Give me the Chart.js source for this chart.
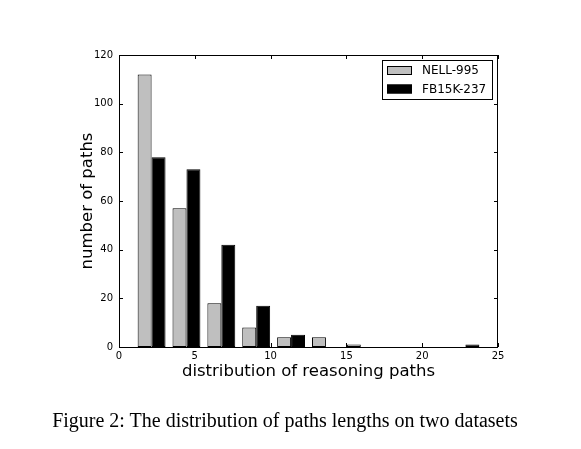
<!DOCTYPE html>
<html>
<head>
<meta charset="utf-8">
<script src="https://cdn.jsdelivr.net/npm/chart.js@4.4.1/dist/chart.umd.min.js"></script>
<style>
  html, body { margin:0; padding:0; background:#fff; }
  #wrap { position:relative; width:581px; height:449px; }
  #caption {
    position:absolute; left:0; top:410px; width:570px; text-align:center;
    font-family:'Liberation Serif', 'Times New Roman', serif; font-size:20px; line-height:20px; color:#000;
  }
</style>
</head>
<body>
<div id="wrap">
  <canvas id="chart" width="581" height="449"></canvas>
  <div id="caption">Figure 2: The distribution of paths lengths on two datasets</div>
</div>
<script>
// ─── Data ─────────────────────────────────────────────────────────────────────
const BIN_CENTERS = [2.15, 4.45, 6.75, 9.05, 11.35, 13.65, 15.95, 18.25, 20.55, 22.85];
const NELL_995    = [112, 57, 18, 8, 4, 4, 1, 0, 0, 0];
const FB15K_237   = [78, 73, 42, 17, 5, 0, 0, 0, 0, 1];
const X_TICKS = [0, 5, 10, 15, 20, 25];
const Y_TICKS = [0, 20, 40, 60, 80, 100, 120];

const FONT = "'DejaVu Sans', sans-serif";
const TICK_STYLE = { color:'#000', font:{family:FONT, size:10} };
const BAR_STYLE = { borderColor:'#000', borderWidth:1, borderSkipped:false, categoryPercentage:0.8, barPercentage:1.0 };

// frame + inward ticks on all four sides (matplotlib classic look)
const framePlugin = {
  id:'frame',
  afterDraw(chart) {
    const {ctx, chartArea:a, scales:{x, y}} = chart;
    const tl = 4;
    ctx.save();
    ctx.strokeStyle = '#000';
    ctx.lineWidth = 1;
    ctx.strokeRect(a.left + 0.5, a.top + 0.5, a.right - a.left - 1, a.bottom - a.top);
    ctx.beginPath();
    X_TICKS.forEach(v => {
      const px = Math.round(x.getPixelForValue(v)) + 0.5;
      ctx.moveTo(px, a.bottom); ctx.lineTo(px, a.bottom - tl);
      ctx.moveTo(px, a.top);    ctx.lineTo(px, a.top + tl);
    });
    Y_TICKS.forEach(v => {
      const py = Math.round(y.getPixelForValue(v)) + 0.5;
      ctx.moveTo(a.left, py);  ctx.lineTo(a.left + tl, py);
      ctx.moveTo(a.right, py); ctx.lineTo(a.right - tl, py);
    });
    ctx.stroke();
    ctx.restore();
  }
};

// legend box in the upper right corner of the plot
const legendPlugin = {
  id:'boxLegend',
  afterDraw(chart) {
    const {ctx, chartArea:a} = chart;
    const ds = chart.data.datasets;
    const w = 110, rowH = 18.5;
    const bx = a.right - 6 - w, by = a.top + 5;
    const h = rowH * ds.length + 2;
    ctx.save();
    ctx.fillStyle = '#fff';
    ctx.fillRect(bx, by, w, h);
    ctx.strokeStyle = '#000';
    ctx.lineWidth = 1;
    ctx.strokeRect(bx + 0.5, by + 0.5, w, h);
    ctx.font = `12px ${FONT}`;
    ctx.textBaseline = 'middle';
    ds.forEach((d, i) => {
      const cy = by + 10.5 + i * rowH;
      ctx.fillStyle = d.backgroundColor;
      ctx.fillRect(bx + 5, cy - 4.5, 25, 9);
      ctx.strokeStyle = '#000';
      ctx.strokeRect(bx + 5.5, cy - 4, 24, 8);
      ctx.fillStyle = '#000';
      ctx.fillText(d.label, bx + 40, cy + 0.5);
    });
    ctx.restore();
  }
};

const toPoints = vals => BIN_CENTERS.map((c, i) => ({x:c, y:vals[i]}));

new Chart(document.getElementById('chart'), {
  type:'bar',
  data:{
    datasets:[
      { label:'NELL-995',  data:toPoints(NELL_995),  backgroundColor:'#bfbfbf', ...BAR_STYLE },
      { label:'FB15K-237', data:toPoints(FB15K_237), backgroundColor:'#000000', ...BAR_STYLE },
    ]
  },
  options:{
    responsive:false,
    animation:false,
    devicePixelRatio:1,
    layout:{ padding:{ left:78, right:83, top:55, bottom:67 } },
    plugins:{ legend:{display:false}, tooltip:{enabled:false} },
    scales:{
      x:{
        type:'linear', min:0, max:25, offset:false,
        afterBuildTicks: s => { s.ticks = X_TICKS.map(v => ({value:v})); },
        afterFit: s => { s.height = 35; },
        ticks:{ ...TICK_STYLE, padding:3, maxRotation:0 },
        grid:{ display:false, drawTicks:false },
        border:{ display:false },
        title:{ display:true, text:'distribution of reasoning paths', color:'#000', font:{family:FONT, size:16.5}, padding:0 }
      },
      y:{
        min:0, max:120,
        afterBuildTicks: s => { s.ticks = Y_TICKS.map(v => ({value:v})); },
        afterFit: s => { s.width = 41; },
        ticks:{ ...TICK_STYLE, padding:6 },
        grid:{ display:false, drawTicks:false },
        border:{ display:false },
        title:{ display:true, text:'number of paths', color:'#000', font:{family:FONT, size:16.5}, padding:0 }
      }
    }
  },
  plugins:[framePlugin, legendPlugin]
});
</script>
</body>
</html>
